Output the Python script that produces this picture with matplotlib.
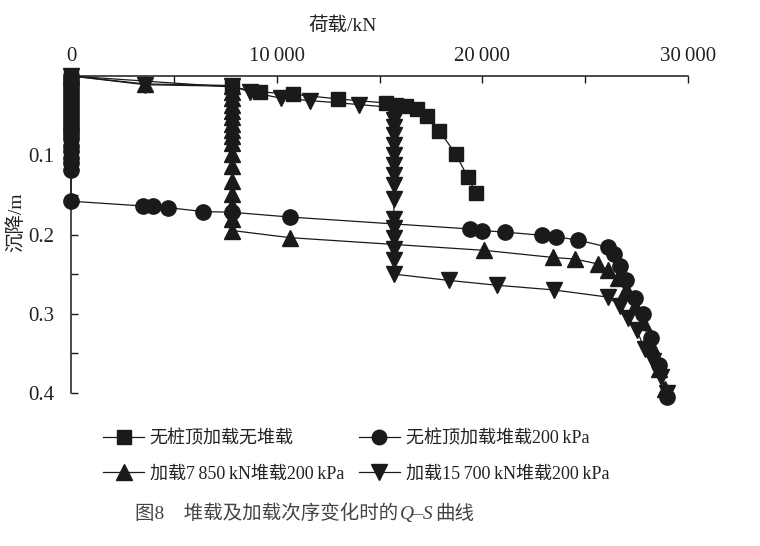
import matplotlib
matplotlib.use("Agg")
import matplotlib.pyplot as plt
from matplotlib.ticker import MultipleLocator, FuncFormatter

plt.rcParams['font.family'] = ['Liberation Serif', 'Noto Sans CJK SC', 'DejaVu Sans']

# ---------------- data ----------------
labels = ["无桩顶加载无堆载", "无桩顶加载堆载200\u2009kPa",
          "加载7\u2009850\u2009kN堆载200\u2009kPa", "加载15\u2009700\u2009kN堆载200\u2009kPa"]

sq_x = [0, 7850, 9200, 10800, 13000, 15300, 15800, 16300, 16800, 17300, 17900, 18700, 19300, 19700]
sq_y = [0, 0.014, 0.020, 0.023, 0.029, 0.034, 0.036, 0.038, 0.042, 0.050, 0.069, 0.098, 0.128, 0.148]

ci_x = [0] * 23 + [3500, 4000, 4700, 6400, 7850, 10650, 19400, 20000, 21100, 22900, 23600, 24650,
                   26100, 26400, 26700, 27000, 27400, 27800, 28200, 28600, 29000]
ci_y = [0, 0.005, 0.010, 0.015, 0.020, 0.025, 0.030, 0.035, 0.040, 0.045, 0.050, 0.055, 0.060,
        0.065, 0.070, 0.075, 0.080, 0.088, 0.095, 0.103, 0.110, 0.118, 0.158,
        0.164, 0.164, 0.166, 0.171, 0.172, 0.178, 0.193, 0.195, 0.197, 0.201, 0.203, 0.207,
        0.216, 0.224, 0.240, 0.258, 0.280, 0.300, 0.330, 0.365, 0.405]

tr_x = [0, 3600] + [7850] * 17 + [10650, 20100, 23450, 24500, 25600, 26100, 26600, 27000, 27400,
                                  27800, 28200, 28600, 28900]
tr_y = [0, 0.010, 0.012, 0.020, 0.028, 0.036, 0.044, 0.052, 0.060, 0.068, 0.076, 0.084, 0.098,
        0.113, 0.132, 0.149, 0.164, 0.180, 0.195,
        0.204, 0.220, 0.229, 0.231, 0.237, 0.245, 0.255, 0.270, 0.290, 0.310, 0.340, 0.370, 0.395]

it_x = [0, 3600, 7850, 8700, 10200, 11600, 14000] + [15700] * 17 + \
       [18400, 20700, 23500, 26100, 26700, 27100, 27500, 27900, 28300, 28700, 29000]
it_y = [0, 0.011, 0.013, 0.020, 0.028, 0.031, 0.036,
        0.040, 0.048, 0.056, 0.064, 0.075, 0.087, 0.100, 0.112, 0.125, 0.138, 0.155,
        0.180, 0.192, 0.205, 0.218, 0.232, 0.250,
        0.258, 0.264, 0.270, 0.279, 0.290, 0.305, 0.320, 0.345, 0.360, 0.380, 0.400]

x_ticks = [0, 10000, 20000, 30000]
y_ticks = [0.1, 0.2, 0.3, 0.4]

# ---------------- figure ----------------
fig = plt.figure(figsize=(7.6, 5.46), dpi=100)
ax = fig.add_axes([71 / 760, 1 - 393 / 546, (688 - 71) / 760, (393 - 76) / 546])

col = '#1a1a1a'
series = [(sq_x, sq_y, 's', 10), (ci_x, ci_y, 'o', 11), (tr_x, tr_y, '^', 11.5), (it_x, it_y, 'v', 11.5)]
handles = []
for (xs, ys, m, ms), lab in zip(series, labels):
    ln, = ax.plot(xs, ys, color=col, lw=0.9, marker=m, ms=ms, mec=col, mfc=col, clip_on=False,
                  label=lab, zorder=3)
    handles.append(ln)

ax.set_xlim(0, 30000)
ax.set_ylim(0.4, 0)
ax.xaxis.tick_top()
ax.spines['bottom'].set_visible(False)
ax.spines['right'].set_visible(False)
for s in ['top', 'left']:
    ax.spines[s].set_color(col)
    ax.spines[s].set_linewidth(1.1)

ax.set_xticks(x_ticks)
ax.xaxis.set_minor_locator(MultipleLocator(5000))
ax.set_yticks(y_ticks)
ax.yaxis.set_minor_locator(MultipleLocator(0.05))
ax.xaxis.set_major_formatter(FuncFormatter(lambda v, p: '0' if v == 0 else f"{int(v)//1000}\u2009000"))
ax.yaxis.set_major_formatter(FuncFormatter(lambda v, p: f"{v:.1f}"))
ax.tick_params(axis='both', which='both', direction='in', length=5, width=1.0, color=col,
               labelsize=15, labelcolor='#222222')
ax.tick_params(axis='x', which='both', top=True, bottom=False, pad=7)
ax.tick_params(axis='y', which='both', pad=12)

fig.text(343 / 760, 1 - 26 / 546, "荷载/kN", ha='center', va='center', fontsize=14, color='#222222')
fig.text(16 / 760, 1 - 222 / 546, "沉降/m", ha='center', va='center', rotation=90, fontsize=14,
         color='#222222')

leg_handles = [handles[0], handles[2], handles[1], handles[3]]
leg_labels = [labels[0], labels[2], labels[1], labels[3]]
fig.legend(leg_handles, leg_labels, ncol=2, frameon=False, loc='center',
           bbox_to_anchor=(356 / 760, 1 - 456 / 546), fontsize=13, handlelength=2.3,
           handletextpad=0.3, columnspacing=0.8, labelspacing=1.0, markerscale=0.95,
           labelcolor='#222222')

# caption
renderer = fig.canvas.get_renderer()
cap_y = 1 - 514 / 546
t1 = fig.text(135 / 760, cap_y, "图8　堆载及加载次序变化时的", fontsize=14, color='#444444', va='center')
bb = t1.get_window_extent(renderer)
t2 = fig.text(bb.x1 / 760 + 0.002, cap_y, "Q–S", fontsize=14, color='#444444', va='center',
              style='italic', family=['Liberation Serif', 'DejaVu Sans'])
bb2 = t2.get_window_extent(renderer)
fig.text(bb2.x1 / 760 + 0.002, cap_y, "曲线", fontsize=14, color='#444444', va='center')

fig.savefig("out.png", dpi=100)
